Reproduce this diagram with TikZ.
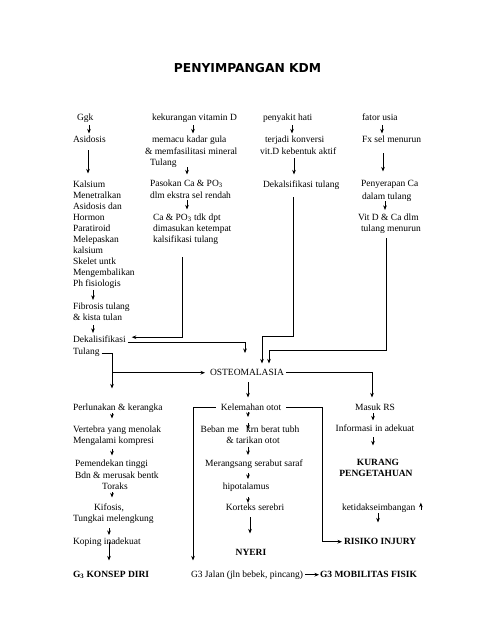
\documentclass[tikz,border=0pt]{standalone}
\usepackage{fontspec}
\setmainfont{Liberation Serif}
\newfontfamily\titlefont{DejaVu Sans}
\usetikzlibrary{arrows.meta}
\begin{document}
\begin{tikzpicture}[x=1pt,y=-1pt,
  tx/.style={inner sep=0pt, outer sep=0pt, text height=6.6pt, text depth=2pt, font=\fontsize{9.5}{11}\selectfont},
  lt/.style={tx, anchor=base west},
  ct/.style={tx, anchor=base},
  bd/.style={font=\fontsize{9.5}{11}\selectfont\bfseries},
  arr/.style={draw=black, line width=0.65pt, -{Stealth[length=4.5pt,width=3.6pt]}},
  ln/.style={draw=black, line width=0.65pt}]
\fill[white] (0,0) rectangle (495,640);
\path[use as bounding box] (0,0) rectangle (495,640);

\node[anchor=base, inner sep=0pt, font=\titlefont\fontsize{12.3}{14}\selectfont\bfseries] (title) at (247.5,72) {PENYIMPANGAN KDM};

% row 1
\node[lt] (ggk) at (77,120) {Ggk};
\node[lt] (kek) at (152,120) {kekurangan vitamin D};
\node[lt] (hati) at (263,120) {penyakit hati};
\node[lt] (usia) at (362,120) {fator usia};
% row 2
\node[lt] (asid) at (73,142) {Asidosis};
\node[lt] (mem1) at (152,142) {memacu kadar gula};
\node[lt] (mem2) at (145,154) {\& memfasilitasi mineral};
\node[lt] (mem3) at (150,165) {Tulang};
\node[lt] (konv1) at (265,142) {terjadi konversi};
\node[lt] (konv2) at (260,154) {vit.D kebentuk aktif};
\node[lt] (fx) at (362,142) {Fx sel menurun};
% row 3 left column
\node[lt] (kal1) at (73,187) {Kalsium};
\node[lt] (kal2) at (73,198.1) {Menetralkan};
\node[lt] (kal3) at (73,209.2) {Asidosis dan};
\node[lt] (kal4) at (73,220.3) {Hormon};
\node[lt] (kal5) at (73,231.4) {Paratiroid};
\node[lt] (kal6) at (73,242.5) {Melepaskan};
\node[lt] (kal7) at (73,253.6) {kalsium};
\node[lt] (kal8) at (73,264.7) {Skelet untk};
\node[lt] (kal9) at (73,275.8) {Mengembalikan};
\node[lt] (kal10) at (73,286.9) {Ph fisiologis};
\node[lt] (fib1) at (73,309) {Fibrosis tulang};
\node[lt] (fib2) at (73,320) {\& kista tulan};
\node[lt] (dek1) at (73,342) {Dekalisifikasi};
\node[lt] (dek2) at (73,354) {Tulang};
% row 3 middle
\node[lt] (pas1) at (150,186) {Pasokan Ca \& PO\textsubscript{3}};
\node[lt] (pas2) at (150,198) {dlm ekstra sel rendah};
\node[lt] (ca1) at (153,220) {Ca \& PO\textsubscript{3} tdk dpt};
\node[lt] (ca2) at (153,231) {dimasukan ketempat};
\node[lt] (ca3) at (153,242) {kalsifikasi tulang};
\node[lt] (dekt) at (263,187) {Dekalsifikasi tulang};
\node[lt] (pen1) at (361,186) {Penyerapan Ca};
\node[lt] (pen2) at (362,199) {dalam tulang};
\node[lt] (vit1) at (358,220) {Vit D \& Ca dlm};
\node[lt] (vit2) at (361,231) {tulang menurun};

\node[lt] (osteo) at (210,375) {OSTEOMALASIA};

% lower left
\node[lt] (perl) at (73,410) {Perlunakan \& kerangka};
\node[lt] (ver1) at (73,432) {Vertebra yang menolak};
\node[lt] (ver2) at (73,443) {Mengalami kompresi};
\node[lt] (pem1) at (75,466) {Pemendekan tinggi};
\node[lt] (pem2) at (75,478) {Bdn \& merusak bentk};
\node[ct] (pem3) at (115,489) {Toraks};
\node[ct] (kif1) at (109,510) {Kifosis,};
\node[lt] (kif2) at (73,521) {Tungkai melengkung};
\node[lt] (kop) at (73,544) {Koping inadekuat};
\node[lt,bd] (konsep) at (73,577) {G\textsubscript{3} KONSEP DIRI};
% lower middle
\node[ct] (kel) at (251,410) {Kelemahan otot};
\node[ct] (beb) at (250,432) {Beban me\phantom{k} krn berat tubh};
\node[ct] (tar) at (253,443) {\& tarikan otot};
\node[ct] (mer) at (254,466) {Merangsang serabut saraf};
\node[ct] (hipo) at (246,489) {hipotalamus};
\node[ct] (kort) at (255,510) {Korteks serebri};
\node[ct,bd] (nyeri) at (251,555) {NYERI};
\node[lt] (jal) at (191,577) {G3 Jalan (jln bebek, pincang)};
\node[lt,bd] (mob) at (320,577) {G3 MOBILITAS FISIK};
% lower right
\node[ct] (masuk) at (375,410) {Masuk RS};
\node[ct] (info) at (375,431) {Informasi in adekuat};
\node[ct,bd] (kur1) at (378,465) {KURANG};
\node[ct,bd] (kur2) at (376,476) {PENGETAHUAN};
\node[lt] (ketid) at (342,510) {ketidakseimbangan};
\node[lt,bd] (risiko) at (344,544) {RISIKO INJURY};

% connectors top
\draw[arr, shorten <=3pt, shorten >=2pt] (ggk.south -| 89,0) -- (asid.north -| 89,0);
\draw[arr, shorten <=3pt, shorten >=2pt] (kek.south -| 193,0) -- (mem1.north -| 193,0);
\draw[arr, shorten <=3pt, shorten >=2pt] (hati.south -| 292,0) -- (konv1.north -| 292,0);
\draw[arr, shorten <=3pt, shorten >=2pt] (usia.south -| 382,0) -- (fx.north -| 382,0);
\draw[arr, shorten <=6pt, shorten >=7pt] (asid.south -| 88,0) -- (kal1.north -| 88,0);
\draw[arr, shorten <=0pt, shorten >=5pt] (mem3.south -| 187,0) -- (pas1.north -| 187,0);
\draw[arr, shorten <=0pt, shorten >=4pt] (pas2.south -| 187,0) -- (ca1.north -| 187,0);
\draw[arr, shorten <=2pt, shorten >=6pt] (konv2.south -| 294,0) -- (dekt.north -| 294,0);
\draw[arr, shorten <=9pt, shorten >=8pt] (fx.south -| 383,0) -- (pen1.north -| 383,0);
\draw[arr, shorten <=0pt, shorten >=3.5pt] (pen2.south -| 385,0) -- (vit1.north -| 385,0);
\draw[arr, shorten <=1pt, shorten >=2.5pt] (kal10.south -| 93,0) -- (fib1.north -| 93,0);
\draw[arr, shorten <=3pt, shorten >=2.5pt] (fib2.south -| 93,0) -- (dek1.north -| 93,0);

% long connectors into OSTEOMALASIA
\draw[arr, shorten <=13pt, shorten >=6pt] (ca3.south -| 182,0) |- ([yshift=2.5pt]dek1.east);
\draw[arr, shorten <=2pt, shorten >=15.4pt] ([yshift=-3pt]dek1.east) -| (osteo.north -| 245,0);
\draw[arr, shorten <=2pt, shorten >=15pt] ([yshift=-2pt]dek2.east) -| (perl.north -| 112,0);
\draw[arr, shorten >=5pt] (osteo.west -| 112,0) -- (osteo.west);
\draw[arr, shorten <=8pt, shorten >=5pt] (dekt.south -| 293,0) -- (293,336) -| (osteo.north -| 262,0);
\draw[arr, shorten <=5pt, shorten >=5pt] (vit2.south -| 386,0) -- (386,350) -| (osteo.north -| 269,0);

% from OSTEOMALASIA
\draw[arr, shorten <=5pt, shorten >=6pt] (osteo.south -| 248,0) -- (kel.north -| 248,0);
\draw[arr, shorten <=2pt, shorten >=6pt] (osteo.east) -| (masuk.north -| 372,0);

% from Kelemahan otot
\draw[arr, shorten <=5pt, shorten >=10pt] (kel.west) -| (jal.north -| 193,0);
\draw[arr, shorten <=5pt, shorten >=2pt] (kel.east) -| (risiko.west -| 322,0) -- (risiko.west);

% middle chain
\draw[arr, shorten <=0pt, shorten >=8.4pt] (kel.south -| 248,0) -- (beb.north -| 248,0);
\draw[arr, shorten <=-2pt] (beb.north -| 248,0) -- ++(0,4);
\draw[arr, shorten <=2pt, shorten >=4.4pt] (tar.south -| 248,0) -- (mer.north -| 248,0);
\draw[arr, shorten <=5pt, shorten >=3.4pt] (mer.south -| 248,0) -- (hipo.north -| 248,0);
\draw[arr, shorten <=6pt, shorten >=0.5pt] (hipo.south -| 248,0) -- (kort.north -| 248,0);
\draw[arr, shorten <=5pt, shorten >=15pt] (kort.south -| 250,0) -- (nyeri.north -| 250,0);
\draw[arr, shorten <=2pt, shorten >=1pt] (jal.east) -- (mob.west);

% left chain
\draw[arr, shorten <=1pt, shorten >=7pt] (perl.south -| 112,0) -- (ver1.north -| 112,0);
\draw[arr, shorten <=4pt, shorten >=4pt] (ver2.south -| 112,0) -- (pem1.north -| 112,0);
\draw[arr, shorten <=1pt, shorten >=6pt] (pem3.south -| 112,0) -- (kif1.north -| 112,0);
\draw[arr, shorten <=5pt, shorten >=2.4pt] (kif2.south -| 109,0) -- (kop.north -| 109,0);
\draw[arr, shorten >=10pt] (kop.center -| 109,0) -- (konsep.north -| 109,0);

% right chain
\draw[arr, shorten <=1pt, shorten >=4pt] (masuk.south -| 373,0) -- (info.north -| 373,0);
\draw[arr, shorten <=4pt, shorten >=13pt] (info.south -| 373,0) -- (kur1.north -| 373,0);
\draw[arr, shorten <=1pt, shorten >=15pt] (ketid.south -| 378,0) -- (risiko.north -| 378,0);
\draw[arr] ([xshift=5.5pt,yshift=-2pt]ketid.east) -- ([xshift=5.5pt,yshift=5pt]ketid.east);
\end{tikzpicture}
\end{document}
